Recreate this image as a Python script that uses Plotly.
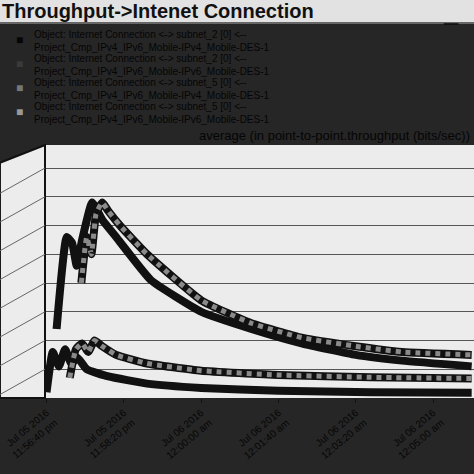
import pandas as pd
import plotly.graph_objects as go

# seconds after Jul 05 2016 11:56:40 pm, value in grid units
t1 = [13, 26, 33, 39, 46, 59, 72, 90, 135, 200, 265, 330, 400, 460, 550]
v1 = [2.4, 5.6, 5.4, 4.6, 5.5, 6.8, 6.2, 5.6, 4.1, 3.0, 2.4, 1.9, 1.5, 1.3, 1.1]
t2 = [45, 52, 58, 64, 72, 80, 95, 130, 200, 265, 330, 400, 460, 550]
v2 = [4.0, 5.6, 5.0, 6.4, 6.8, 6.5, 6.0, 5.0, 3.4, 2.6, 2.1, 1.8, 1.6, 1.5]
t3 = [0, 8, 16, 24, 32, 40, 52, 80, 130, 200, 300, 420, 550]
v3 = [0.2, 1.6, 1.1, 1.7, 1.2, 1.4, 1.0, 0.75, 0.5, 0.35, 0.25, 0.2, 0.18]
t4 = [30, 38, 46, 54, 62, 72, 90, 130, 200, 300, 420, 550]
v4 = [0.7, 1.7, 1.9, 1.6, 2.0, 1.8, 1.5, 1.2, 0.95, 0.8, 0.72, 0.68]

legend_lines = [
    ("Object: Internet Connection <-> subnet_2 [0] <--", "Project_Cmp_IPv4_IPv6_Mobile-IPv4_Mobile-DES-1", "#050505"),
    ("Object: Internet Connection <-> subnet_2 [0] <--", "Project_Cmp_IPv4_IPv6_Mobile-IPv6_Mobile-DES-1", "#3a3a3a"),
    ("Object: Internet Connection <-> subnet_5 [0] <--", "Project_Cmp_IPv4_IPv6_Mobile-IPv4_Mobile-DES-1", "#777777"),
    ("Object: Internet Connection <-> subnet_5 [0] <--", "Project_Cmp_IPv4_IPv6_Mobile-IPv6_Mobile-DES-1", "#999999"),
]
tick_secs = [0, 100, 200, 300, 400, 500]
tick_text = ["Jul 05 2016<br>11:56:40 pm", "Jul 05 2016<br>11:58:20 pm", "Jul 06 2016<br>12:00:00 am",
             "Jul 06 2016<br>12:01:40 am", "Jul 06 2016<br>12:03:20 am", "Jul 06 2016<br>12:05:00 am"]

t0 = pd.Timestamp("2016-07-05 23:56:40")
def ts(s):
    return [t0 + pd.Timedelta(seconds=x) for x in s]

H = 253  # plot height in px
fig = go.Figure()
for t, v, hatched in [(t1, v1, False), (t2, v2, True), (t3, v3, False), (t4, v4, True)]:
    fig.add_trace(go.Scatter(x=ts(t), y=v, mode="lines", line=dict(color="#111", width=8, shape="spline", smoothing=0.4)))
    if hatched:
        fig.add_trace(go.Scatter(x=ts(t), y=v, mode="lines",
                                 line=dict(color="#8a8a8a", width=5, dash="dot", shape="spline", smoothing=0.4)))

fig.update_layout(
    width=474, height=474, showlegend=False,
    margin=dict(l=45, r=0, t=145, b=76, autoexpand=False),
    paper_bgcolor="#262626", plot_bgcolor="#ececec",
    xaxis=dict(range=[t0 - pd.Timedelta(seconds=2), t0 + pd.Timedelta(seconds=553)], automargin=False,
               tickvals=ts(tick_secs), ticktext=tick_text, tickangle=-40, ticks="outside",
               ticklen=4, tickcolor="#111", showgrid=False, zeroline=False,
               tickfont=dict(family="Liberation Sans", size=10, color="#050505")),
    yaxis=dict(range=[0, 8.8], dtick=1, showticklabels=False, gridcolor="#555", gridwidth=1,
               zeroline=False, automargin=False),
)
fig.update_layout(shapes=[
    dict(type="rect", xref="paper", yref="paper", x0=-0.12, x1=1.05, y0=1 + 122 / H, y1=1.6,
         fillcolor="#e2e2e2", line=dict(width=0)),
    dict(type="line", xref="paper", yref="paper", x0=-0.12, x1=1.05, y0=1 + 122 / H, y1=1 + 122 / H,
         line=dict(color="#666", width=2)),
    dict(type="path", xref="paper", yref="paper", path="M -0.105 0 L 0 0 L 0 1 L -0.105 0.93 Z",
         fillcolor="#ececec", line=dict(color="#111", width=2)),
] + [dict(type="line", xref="paper", yref="paper", x0=-0.105, x1=0, y0=k / 8.8 - 0.1, y1=k / 8.8,
          line=dict(color="#666", width=1)) for k in range(1, 9)])

ann = [dict(x=-0.105, y=1 + 134 / H, xref="paper", yref="paper", xanchor="left", yanchor="middle",
            text="<b>Throughput->Intenet Connection</b>", showarrow=False,
            font=dict(family="Liberation Sans", size=20, color="#111")),
       dict(x=0.97, y=1 + 136 / H, xref="paper", yref="paper", text="<b>—</b>", showarrow=False,
            font=dict(size=16, color="#111")),
       dict(x=0.995, y=1 + 10 / H, xref="paper", yref="paper", xanchor="right", yanchor="middle",
            text="average (in point-to-point.throughput (bits/sec))", showarrow=False,
            font=dict(family="Liberation Sans", size=13, color="#050505"))]
for i, (a, b, c) in enumerate(legend_lines):
    y = 1 + (116 - i * 24) / H
    ann.append(dict(x=-0.072, y=y, xref="paper", yref="paper", xanchor="left", yanchor="top",
                    text="■", showarrow=False, font=dict(size=12, color=c)))
    ann.append(dict(x=-0.03, y=y + 2 / H, xref="paper", yref="paper", xanchor="left", yanchor="top",
                    text=a + "<br>" + b, align="left", showarrow=False,
                    font=dict(family="Liberation Sans", size=10, color="#050505")))
fig.update_layout(annotations=ann)

fig.write_html("out.html", config={"displayModeBar": False})
with open("out.html") as f:
    page = f.read()
page = page.replace("<body>", '<body style="margin:0">', 1)
with open("out.html", "w") as f:
    f.write(page)
